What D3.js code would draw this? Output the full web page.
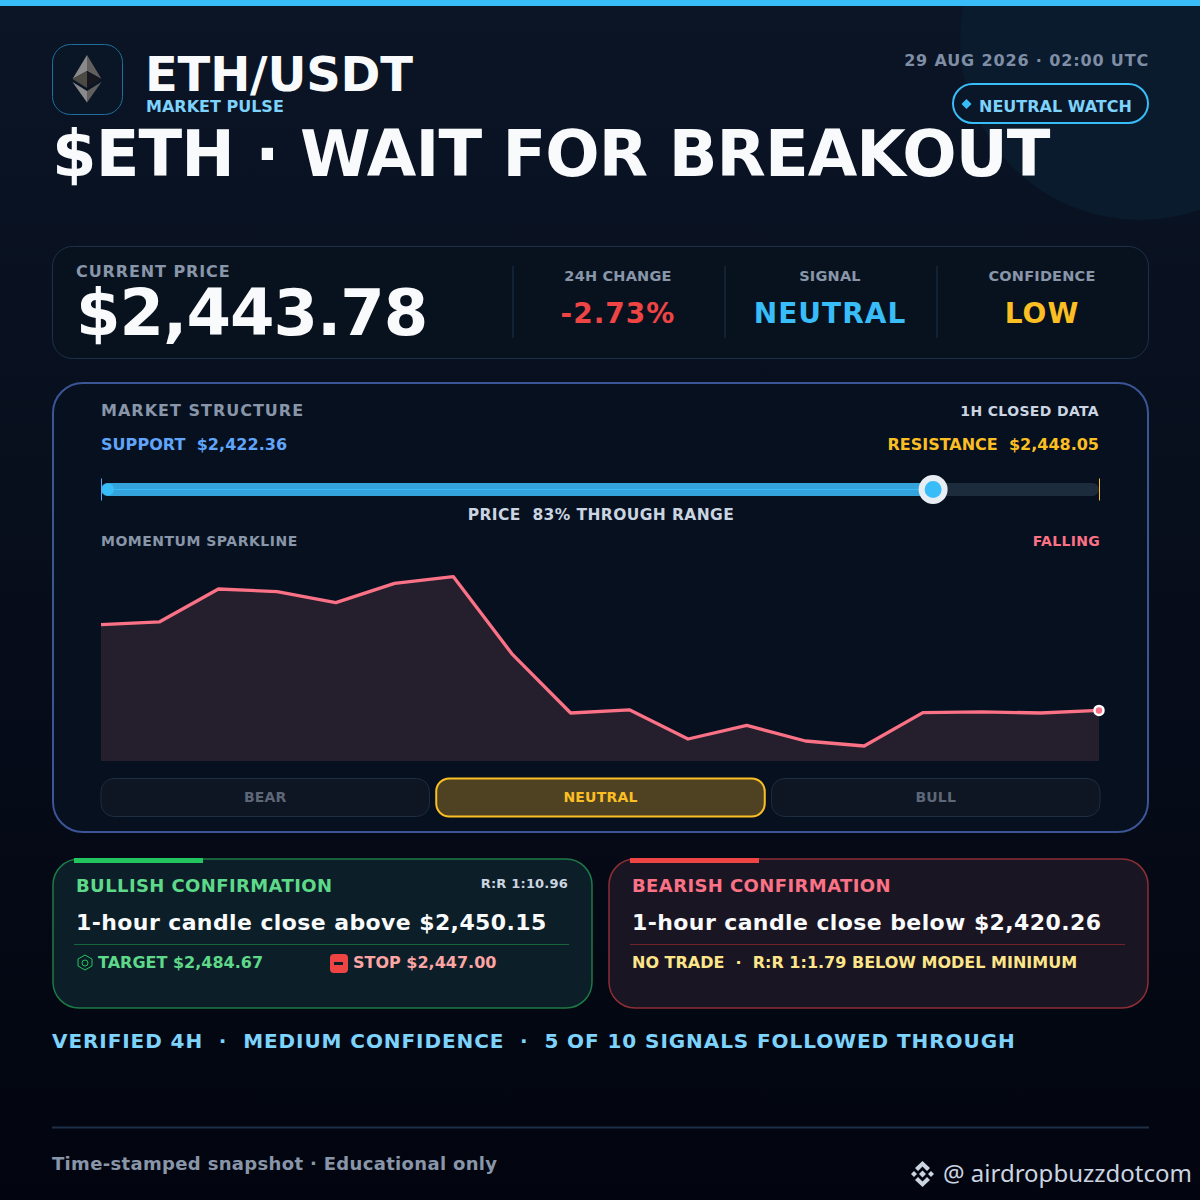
<!DOCTYPE html>
<html lang="en">
<head>
  <title>ETH/USDT market pulse</title>
  <meta charset="utf-8">
  <script src="https://d3js.org/d3.v7.min.js" charset="utf-8"></script>
  <style>
    html, body { margin: 0; padding: 0; background: #02050f; }
    svg { display: block; }
    text { font-family: "DejaVu Sans", sans-serif; font-weight: 700; }
  </style>
</head>
<body>
<script>
  // values
  var support = 2422.36;
  var resistance = 2448.05;
  var price = 2443.78;
  // momentum index, 0 = bottom of the sparkline box
  var sparkline = [68.2, 69.6, 86, 84.7, 79.2, 88.8, 92.2, 53.6, 24, 25.6, 11, 17.8, 10, 7.5, 24.2, 24.6, 24, 25.3];
  var zones = ["BEAR", "NEUTRAL", "BULL"];
  var activeZone = "NEUTRAL";
  var stats = ["24H CHANGE", "SIGNAL", "CONFIDENCE"];
  var statValues = ["-2.73%", "NEUTRAL", "LOW"];

  var w = 1200, h = 1200;

  var svg = d3.select("body").append("svg")
    .attr("width", w)
    .attr("height", h);

  var defs = svg.append("defs");
  var bg = defs.append("linearGradient").attr("id", "bg")
    .attr("x1", 0).attr("y1", 0).attr("x2", 0).attr("y2", 1);
  bg.append("stop").attr("offset", "0%").attr("stop-color", "#0b1526");
  bg.append("stop").attr("offset", "100%").attr("stop-color", "#02050f");

  // little helper, there is a lot of text on this one
  function label(str, x, y, size, color, anchor, spacing, weight, family) {
    var t = svg.append("text")
      .attr("x", x)
      .attr("y", y)
      .attr("font-size", size)
      .attr("fill", color)
      .attr("text-anchor", anchor || "start")
      .attr("xml:space", "preserve")
      .text(str);
    if (spacing) t.attr("letter-spacing", spacing);
    if (weight) t.style("font-weight", weight);
    if (family) t.style("font-family", family);
    return t;
  }

  function box(x, y, bw, bh, r, fill, stroke, sw) {
    return svg.append("rect")
      .attr("x", x).attr("y", y)
      .attr("width", bw).attr("height", bh)
      .attr("rx", r)
      .attr("fill", fill)
      .attr("stroke", stroke || "none")
      .attr("stroke-width", sw || 1);
  }

  // background
  svg.append("rect").attr("width", w).attr("height", h).attr("fill", "url(#bg)");
  svg.append("circle").attr("cx", 1140).attr("cy", 40).attr("r", 180).attr("fill", "#0a1b2e");
  svg.append("rect").attr("width", w).attr("height", 6).attr("fill", "#38bdf8");

  // header
  box(52.5, 44.5, 70, 70, 18, "#0a1626", "#1f6f9c", 1);
  var eth = svg.append("g");
  eth.append("path").attr("d", "M87 55 L72.5 79 L87 71 Z").attr("fill", "#8a8a8c");
  eth.append("path").attr("d", "M87 55 L101.5 79 L87 71 Z").attr("fill", "#62605f");
  eth.append("path").attr("d", "M87 71 L72.5 79 L87 88 Z").attr("fill", "#4c4a44");
  eth.append("path").attr("d", "M87 71 L101.5 79 L87 88 Z").attr("fill", "#17171f");
  eth.append("path").attr("d", "M72.5 82 L87 91 L87 102.5 Z").attr("fill", "#8a8a8c");
  eth.append("path").attr("d", "M101.5 82 L87 91 L87 102.5 Z").attr("fill", "#62605f");

  label("ETH/USDT", 145, 91, 48, "#f8fafc", "start", -0.2);
  label("MARKET PULSE", 146, 112, 16, "#7dd3fc");
  label("29 AUG 2026 · 02:00 UTC", 1149, 66, 16, "#7f8ea5", "end", 0.85);

  box(953, 84, 195, 39, 19.5, "#0a1728", "#38bdf8", 2);
  svg.append("path").attr("d", "M966.5 99 L971.5 104 L966.5 109 L961.5 104 Z").attr("fill", "#38bdf8");
  label("NEUTRAL WATCH", 979, 112, 16, "#7dd3fc");

  label("$ETH · WAIT FOR BREAKOUT", 52, 176, 64, "#f8fafc", "start", -0.9);

  // price card
  box(52.5, 246.5, 1096, 112, 20, "#08121f", "#1d3048", 1);
  label("CURRENT PRICE", 76, 277, 16, "#8996a9", "start", 0.9);
  label("$" + d3.format(",.2f")(price), 76, 335, 64, "#f8fafc", "start", -1);

  var statCenters = [618, 830, 1042];
  var statColors = ["#ef4444", "#38bdf8", "#fbbf24"];
  stats.forEach(function(s, i) {
    label(s, statCenters[i], 281, 14.5, "#8996a9", "middle", 0.2);
    label(statValues[i], statCenters[i], 323, 28, statColors[i], "middle", 1);
    svg.append("line")
      .attr("x1", statCenters[i] - 105).attr("x2", statCenters[i] - 105)
      .attr("y1", 266).attr("y2", 338)
      .attr("stroke", "#1d3048");
  });

  // market structure panel
  box(53, 383, 1095, 449, 30, "#06101f", "#3b5596", 2);
  label("MARKET STRUCTURE", 101, 416, 16, "#8996a9", "start", 1);
  label("1H CLOSED DATA", 1099, 416, 14, "#cbd5e1", "end", 0.35);
  label("SUPPORT  $" + d3.format(",.2f")(support), 101, 450, 16, "#60a5fa", "start", 0.05);
  label("RESISTANCE  $" + d3.format(",.2f")(resistance), 1099, 450, 16, "#fbbf24", "end");

  // range bar
  var rangeX = d3.scaleLinear().domain([support, resistance]).range([101, 1099]);
  var barY = 489.5;
  box(rangeX(support), barY - 6.5, rangeX(resistance) - rangeX(support), 13, 6.5, "#1d2c3d");
  box(rangeX(support), barY - 6.5, rangeX(price) - rangeX(support), 13, 6.5, "#34a3dc");
  svg.append("line")
    .attr("x1", rangeX(support)).attr("x2", rangeX(price))
    .attr("y1", barY).attr("y2", barY)
    .attr("stroke", "#38bdf8");
  svg.append("line")
    .attr("x1", rangeX(support) + 0.5).attr("x2", rangeX(support) + 0.5)
    .attr("y1", barY - 11).attr("y2", barY + 11)
    .attr("stroke", "#60a5fa");
  svg.append("line")
    .attr("x1", rangeX(resistance) + 0.5).attr("x2", rangeX(resistance) + 0.5)
    .attr("y1", barY - 11).attr("y2", barY + 11)
    .attr("stroke", "#fbbf24");
  svg.append("circle").attr("cx", rangeX(support) + 7).attr("cy", barY).attr("r", 6).attr("fill", "#38bdf8");
  svg.append("circle").attr("cx", rangeX(price)).attr("cy", barY).attr("r", 11.5)
    .attr("fill", "#38bdf8").attr("stroke", "#e8edf3").attr("stroke-width", 6);

  var pct = Math.floor((price - support) / (resistance - support) * 100);
  label("PRICE  " + pct + "% THROUGH RANGE", 601, 520, 15.5, "#cbd5e1", "middle", 0.4);

  label("MOMENTUM SPARKLINE", 101, 546, 14, "#8996a9", "start", 0.5);
  label("FALLING", 1100, 546, 14, "#fb7185", "end", 0.3);

  // sparkline
  var sparkX = d3.scaleLinear().domain([0, sparkline.length - 1]).range([101, 1099]);
  var sparkY = d3.scaleLinear().domain([0, 100]).range([761, 561]);

  var area = d3.area()
    .x(function(d, i) { return sparkX(i); })
    .y0(sparkY(0))
    .y1(function(d) { return sparkY(d); });
  var line = d3.line()
    .x(function(d, i) { return sparkX(i); })
    .y(function(d) { return sparkY(d); });

  svg.append("path").datum(sparkline).attr("d", area).attr("fill", "#241e2d");
  svg.append("path").datum(sparkline).attr("d", line)
    .attr("fill", "none")
    .attr("stroke", "#fb7185")
    .attr("stroke-width", 3.3)
    .attr("stroke-linejoin", "round");
  svg.append("circle")
    .attr("cx", sparkX(sparkline.length - 1))
    .attr("cy", sparkY(sparkline[sparkline.length - 1]))
    .attr("r", 4.5)
    .attr("fill", "#fb7185")
    .attr("stroke", "#ffffff")
    .attr("stroke-width", 2.5);

  // bear / neutral / bull zones
  var zoneX = d3.scaleBand().domain(zones).range([101, 1100]).paddingInner(0.02);
  svg.selectAll("rect.zone")
    .data(zones)
    .enter()
    .append("rect")
    .attr("class", "zone")
    .attr("x", function(d) { return zoneX(d); })
    .attr("y", 778.5)
    .attr("width", zoneX.bandwidth())
    .attr("height", 38)
    .attr("rx", 13)
    .attr("fill", function(d) { return d == activeZone ? "#4f4223" : "#0e1523"; })
    .attr("stroke", function(d) { return d == activeZone ? "#fbbf24" : "#1e2d3f"; })
    .attr("stroke-width", function(d) { return d == activeZone ? 2 : 1; });
  zones.forEach(function(z) {
    label(z, zoneX(z) + zoneX.bandwidth() / 2, 802, 14, z == activeZone ? "#fbbf24" : "#5d6778", "middle", 0.2);
  });

  // bullish card
  box(53, 859, 539, 149, 26, "#0c1e27", "#1c7a46", 1.5);
  svg.append("rect").attr("x", 74).attr("y", 858).attr("width", 129).attr("height", 5).attr("fill", "#22c55e");
  label("BULLISH CONFIRMATION", 76, 892, 18, "#5ed98a", "start", 0.4);
  label("R:R 1:10.96", 568, 888, 13, "#cbd5e1", "end", 0.2);
  label("1-hour candle close above $2,450.15", 76, 930, 22, "#f8fafc", "start", 0.4);
  svg.append("line").attr("x1", 74).attr("x2", 569).attr("y1", 944.5).attr("y2", 944.5).attr("stroke", "#17663a");
  svg.append("path").attr("d", "M85 955 L92 959 L92 966 L85 970 L78 966 L78 959 Z")
    .attr("fill", "none").attr("stroke", "#22c55e");
  svg.append("circle").attr("cx", 85).attr("cy", 963).attr("r", 3)
    .attr("fill", "none").attr("stroke", "#22c55e");
  label("TARGET $2,484.67", 98, 968, 16, "#5ed98a");
  box(330, 954, 18, 19, 4, "#ef4444");
  svg.append("rect").attr("x", 334).attr("y", 962).attr("width", 9).attr("height", 3).attr("fill", "#0c1e27");
  label("STOP $2,447.00", 353, 968, 16, "#fca5a5");

  // bearish card
  box(609, 859, 539, 149, 26, "#1a1522", "#8c2f35", 1.5);
  svg.append("rect").attr("x", 630).attr("y", 858).attr("width", 129).attr("height", 5).attr("fill", "#ef4444");
  label("BEARISH CONFIRMATION", 632, 892, 18, "#fb7185", "start", 0.4);
  label("1-hour candle close below $2,420.26", 632, 930, 22, "#f8fafc", "start", 0.4);
  svg.append("line").attr("x1", 630).attr("x2", 1125).attr("y1", 944.5).attr("y2", 944.5).attr("stroke", "#6f2329");
  label("NO TRADE  ·  R:R 1:1.79 BELOW MODEL MINIMUM", 632, 968, 16, "#fde68a");

  // footer
  label("VERIFIED 4H  ·  MEDIUM CONFIDENCE  ·  5 OF 10 SIGNALS FOLLOWED THROUGH", 52, 1048, 20, "#7dd3fc", "start", 0.92);
  svg.append("line").attr("x1", 52).attr("x2", 1149).attr("y1", 1127.5).attr("y2", 1127.5).attr("stroke", "#1e2f48").attr("stroke-width", 2);
  label("Time-stamped snapshot · Educational only", 52, 1170, 18, "#8996a9", "start", 0.33);

  // watermark logo
  var logo = svg.append("g").attr("fill", "#cbd5e1");
  logo.append("path").attr("d", "M922.5 1161 L930 1168 L927 1171 L922.5 1166.5 L918 1171 L915 1168 Z");
  logo.append("path").attr("d", "M922.5 1187 L930 1180 L927 1177 L922.5 1181.5 L918 1177 L915 1180 Z");
  logo.append("path").attr("d", "M922.5 1170.5 L926 1174 L922.5 1177.5 L919 1174 Z");
  logo.append("path").attr("d", "M914 1171 L917 1174 L914 1177 L911 1174 Z");
  logo.append("path").attr("d", "M931 1171 L934 1174 L931 1177 L928 1174 Z");
  label("@ airdropbuzzdotcom", 943, 1182, 24, "#cbd5e1", "start", 0, 400, "'Noto Sans', sans-serif");
</script>
</body>
</html>
